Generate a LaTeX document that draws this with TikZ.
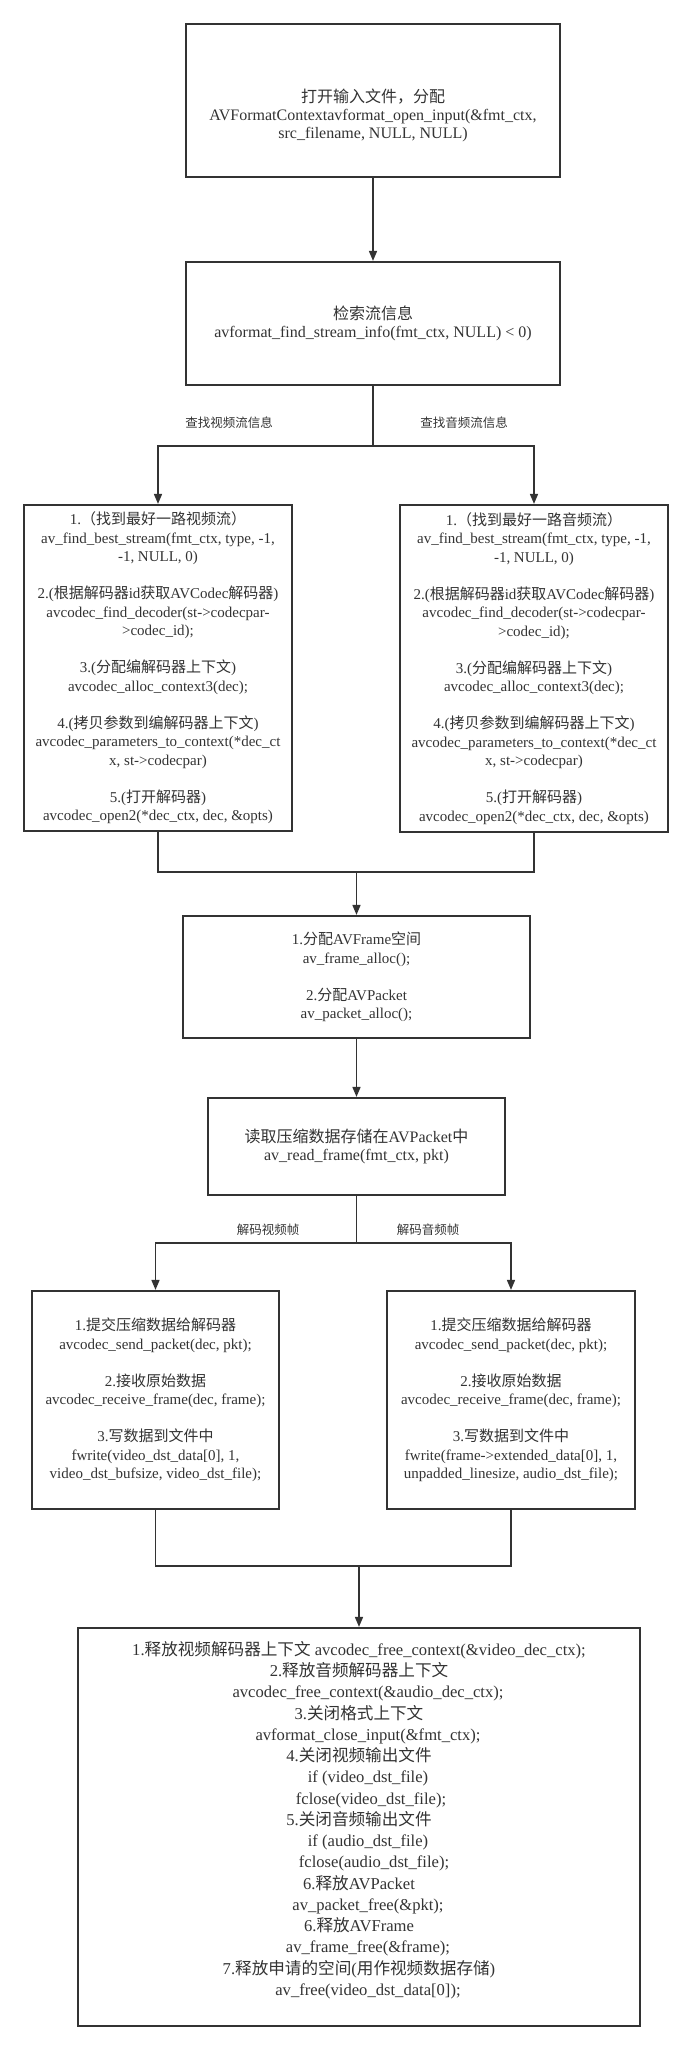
\documentclass[tikz,border=0pt]{standalone}
\usepackage{fontspec}
\setmainfont{Liberation Serif}
\newfontfamily\cjkfont{Noto Sans CJK SC}
\newcommand{\zh}[1]{{\cjkfont #1}}
\usetikzlibrary{arrows.meta}
\definecolor{ink}{HTML}{333333}
\begin{document}
\begin{tikzpicture}[x=1pt,y=-1pt,
  box/.style={draw=ink, line width=2.2pt, inner sep=0pt, align=center, text=ink, font=\fontsize{15}{18.5}\selectfont},
  bigbox/.style={box, font=\fontsize{16}{18.5}\selectfont},
  plain/.style={text=ink, align=center, inner sep=0pt},
  link/.style={draw=ink, line width=1.6pt},
  arr/.style={link, -{Triangle[length=10pt,width=8pt]}},
  lbl/.style={text=ink, font=\fontsize{12.5}{15}\selectfont, inner sep=0pt}]
\useasboundingbox[fill=white] (0,0) rectangle (693,2051);

% box 1
\node[box, minimum width=374pt, minimum height=153pt] (b1) at (373,100.5) {};
\node[plain, font=\fontsize{16}{18}\selectfont] (t1) at (373,115) {\zh{打开输入文件，分配}\\
AVFormatContextavformat\_open\_input(\&fmt\_ctx,\\
src\_filename, NULL, NULL)};

% box 2
\node[bigbox, minimum width=374pt, minimum height=123pt] (b2) at (373,323.5) {\zh{检索流信息}\\
avformat\_find\_stream\_info(fmt\_ctx, NULL) < 0)};

% box 3
\node[box, minimum width=268pt, minimum height=326pt] (b3) at (158,668) {1.\zh{（找到最好一路视频流）}\\
av\_find\_best\_stream(fmt\_ctx, type, -1,\\
-1, NULL, 0)\\[18.5pt]
2.(\zh{根据解码器}id\zh{获取}AVCodec\zh{解码器})\\
avcodec\_find\_decoder(st->codecpar-\\
>codec\_id);\\[18.5pt]
3.(\zh{分配编解码器上下文})\\
avcodec\_alloc\_context3(dec);\\[18.5pt]
4.(\zh{拷贝参数到编解码器上下文})\\
avcodec\_parameters\_to\_context(*dec\_ct\\
x, st->codecpar)\\[18.5pt]
5.(\zh{打开解码器})\\
avcodec\_open2(*dec\_ctx, dec, \&opts)};

% box 4
\node[box, minimum width=268pt, minimum height=327pt] (b4) at (534,668.5) {1.\zh{（找到最好一路音频流）}\\
av\_find\_best\_stream(fmt\_ctx, type, -1,\\
-1, NULL, 0)\\[18.5pt]
2.(\zh{根据解码器}id\zh{获取}AVCodec\zh{解码器})\\
avcodec\_find\_decoder(st->codecpar-\\
>codec\_id);\\[18.5pt]
3.(\zh{分配编解码器上下文})\\
avcodec\_alloc\_context3(dec);\\[18.5pt]
4.(\zh{拷贝参数到编解码器上下文})\\
avcodec\_parameters\_to\_context(*dec\_ct\\
x, st->codecpar)\\[18.5pt]
5.(\zh{打开解码器})\\
avcodec\_open2(*dec\_ctx, dec, \&opts)};

% box 5
\node[box, minimum width=347pt, minimum height=122pt] (b5) at (356.5,977) {1.\zh{分配}AVFrame\zh{空间}\\
av\_frame\_alloc();\\[18.5pt]
2.\zh{分配}AVPacket\\
av\_packet\_alloc();};

% box 6
\node[bigbox, minimum width=297pt, minimum height=97pt] (b6) at (356.5,1146.5) {\zh{读取压缩数据存储在}AVPacket\zh{中}\\
av\_read\_frame(fmt\_ctx, pkt)};

% box 7
\node[box, minimum width=247pt, minimum height=218pt] (b7) at (155.5,1400) {1.\zh{提交压缩数据给解码器}\\
avcodec\_send\_packet(dec, pkt);\\[18.5pt]
2.\zh{接收原始数据}\\
avcodec\_receive\_frame(dec, frame);\\[18.5pt]
3.\zh{写数据到文件中}\\
fwrite(video\_dst\_data[0], 1,\\
video\_dst\_bufsize, video\_dst\_file);};

% box 8
\node[box, minimum width=248pt, minimum height=218pt] (b8) at (511,1400) {1.\zh{提交压缩数据给解码器}\\
avcodec\_send\_packet(dec, pkt);\\[18.5pt]
2.\zh{接收原始数据}\\
avcodec\_receive\_frame(dec, frame);\\[18.5pt]
3.\zh{写数据到文件中}\\
fwrite(frame->extended\_data[0], 1,\\
unpadded\_linesize, audio\_dst\_file);};

% box 9
\node[box, minimum width=562pt, minimum height=398pt] (b9) at (359,1827) {};
\node[plain, font=\fontsize{16.6}{21.25}\selectfont] (t9) at (359,1820) {1.\zh{释放视频解码器上下文} avcodec\_free\_context(\&video\_dec\_ctx);\\
2.\zh{释放音频解码器上下文}\\
\hspace*{18pt}avcodec\_free\_context(\&audio\_dec\_ctx);\\
3.\zh{关闭格式上下文}\\
\hspace*{18pt}avformat\_close\_input(\&fmt\_ctx);\\
4.\zh{关闭视频输出文件}\\
\hspace*{18pt}if (video\_dst\_file)\\
\hspace*{24pt}fclose(video\_dst\_file);\\
5.\zh{关闭音频输出文件}\\
\hspace*{18pt}if (audio\_dst\_file)\\
\hspace*{30pt}fclose(audio\_dst\_file);\\
6.\zh{释放}AVPacket\\
\hspace*{18pt}av\_packet\_free(\&pkt);\\
6.\zh{释放}AVFrame\\
\hspace*{18pt}av\_frame\_free(\&frame);\\
7.\zh{释放申请的空间}(\zh{用作视频数据存储})\\
\hspace*{18pt}av\_free(video\_dst\_data[0]);};

% connectors
\draw[arr] (b1.south) -- (b2.north);
\coordinate (j1) at (373,446);
\draw[link] (b2.south) -- (j1);
\draw[arr] (j1) -| (b3.north);
\draw[arr] (j1) -| (b4.north);
\node[lbl] (l1) at (229,423) {\zh{查找视频流信息}};
\node[lbl] (l2) at (464,423) {\zh{查找音频流信息}};

\coordinate (j2) at (356.5,872);
\draw[link] (b3.south) |- (j2);
\draw[link] (b4.south) |- (j2);
\draw[arr] (j2) -- (b5.north);
\draw[arr] (b5.south) -- (b6.north);

\coordinate (j3) at (356.5,1243);
\draw[link] (b6.south) -- (j3);
\draw[arr] (j3) -| (b7.north);
\draw[arr] (j3) -| (b8.north);
\node[lbl] (l3) at (268,1230) {\zh{解码视频帧}};
\node[lbl] (l4) at (428,1230) {\zh{解码音频帧}};

\coordinate (j4) at (359,1566);
\draw[link] (b7.south) |- (j4);
\draw[link] (b8.south) |- (j4);
\draw[arr] (j4) -- (b9.north);
\end{tikzpicture}
\end{document}
